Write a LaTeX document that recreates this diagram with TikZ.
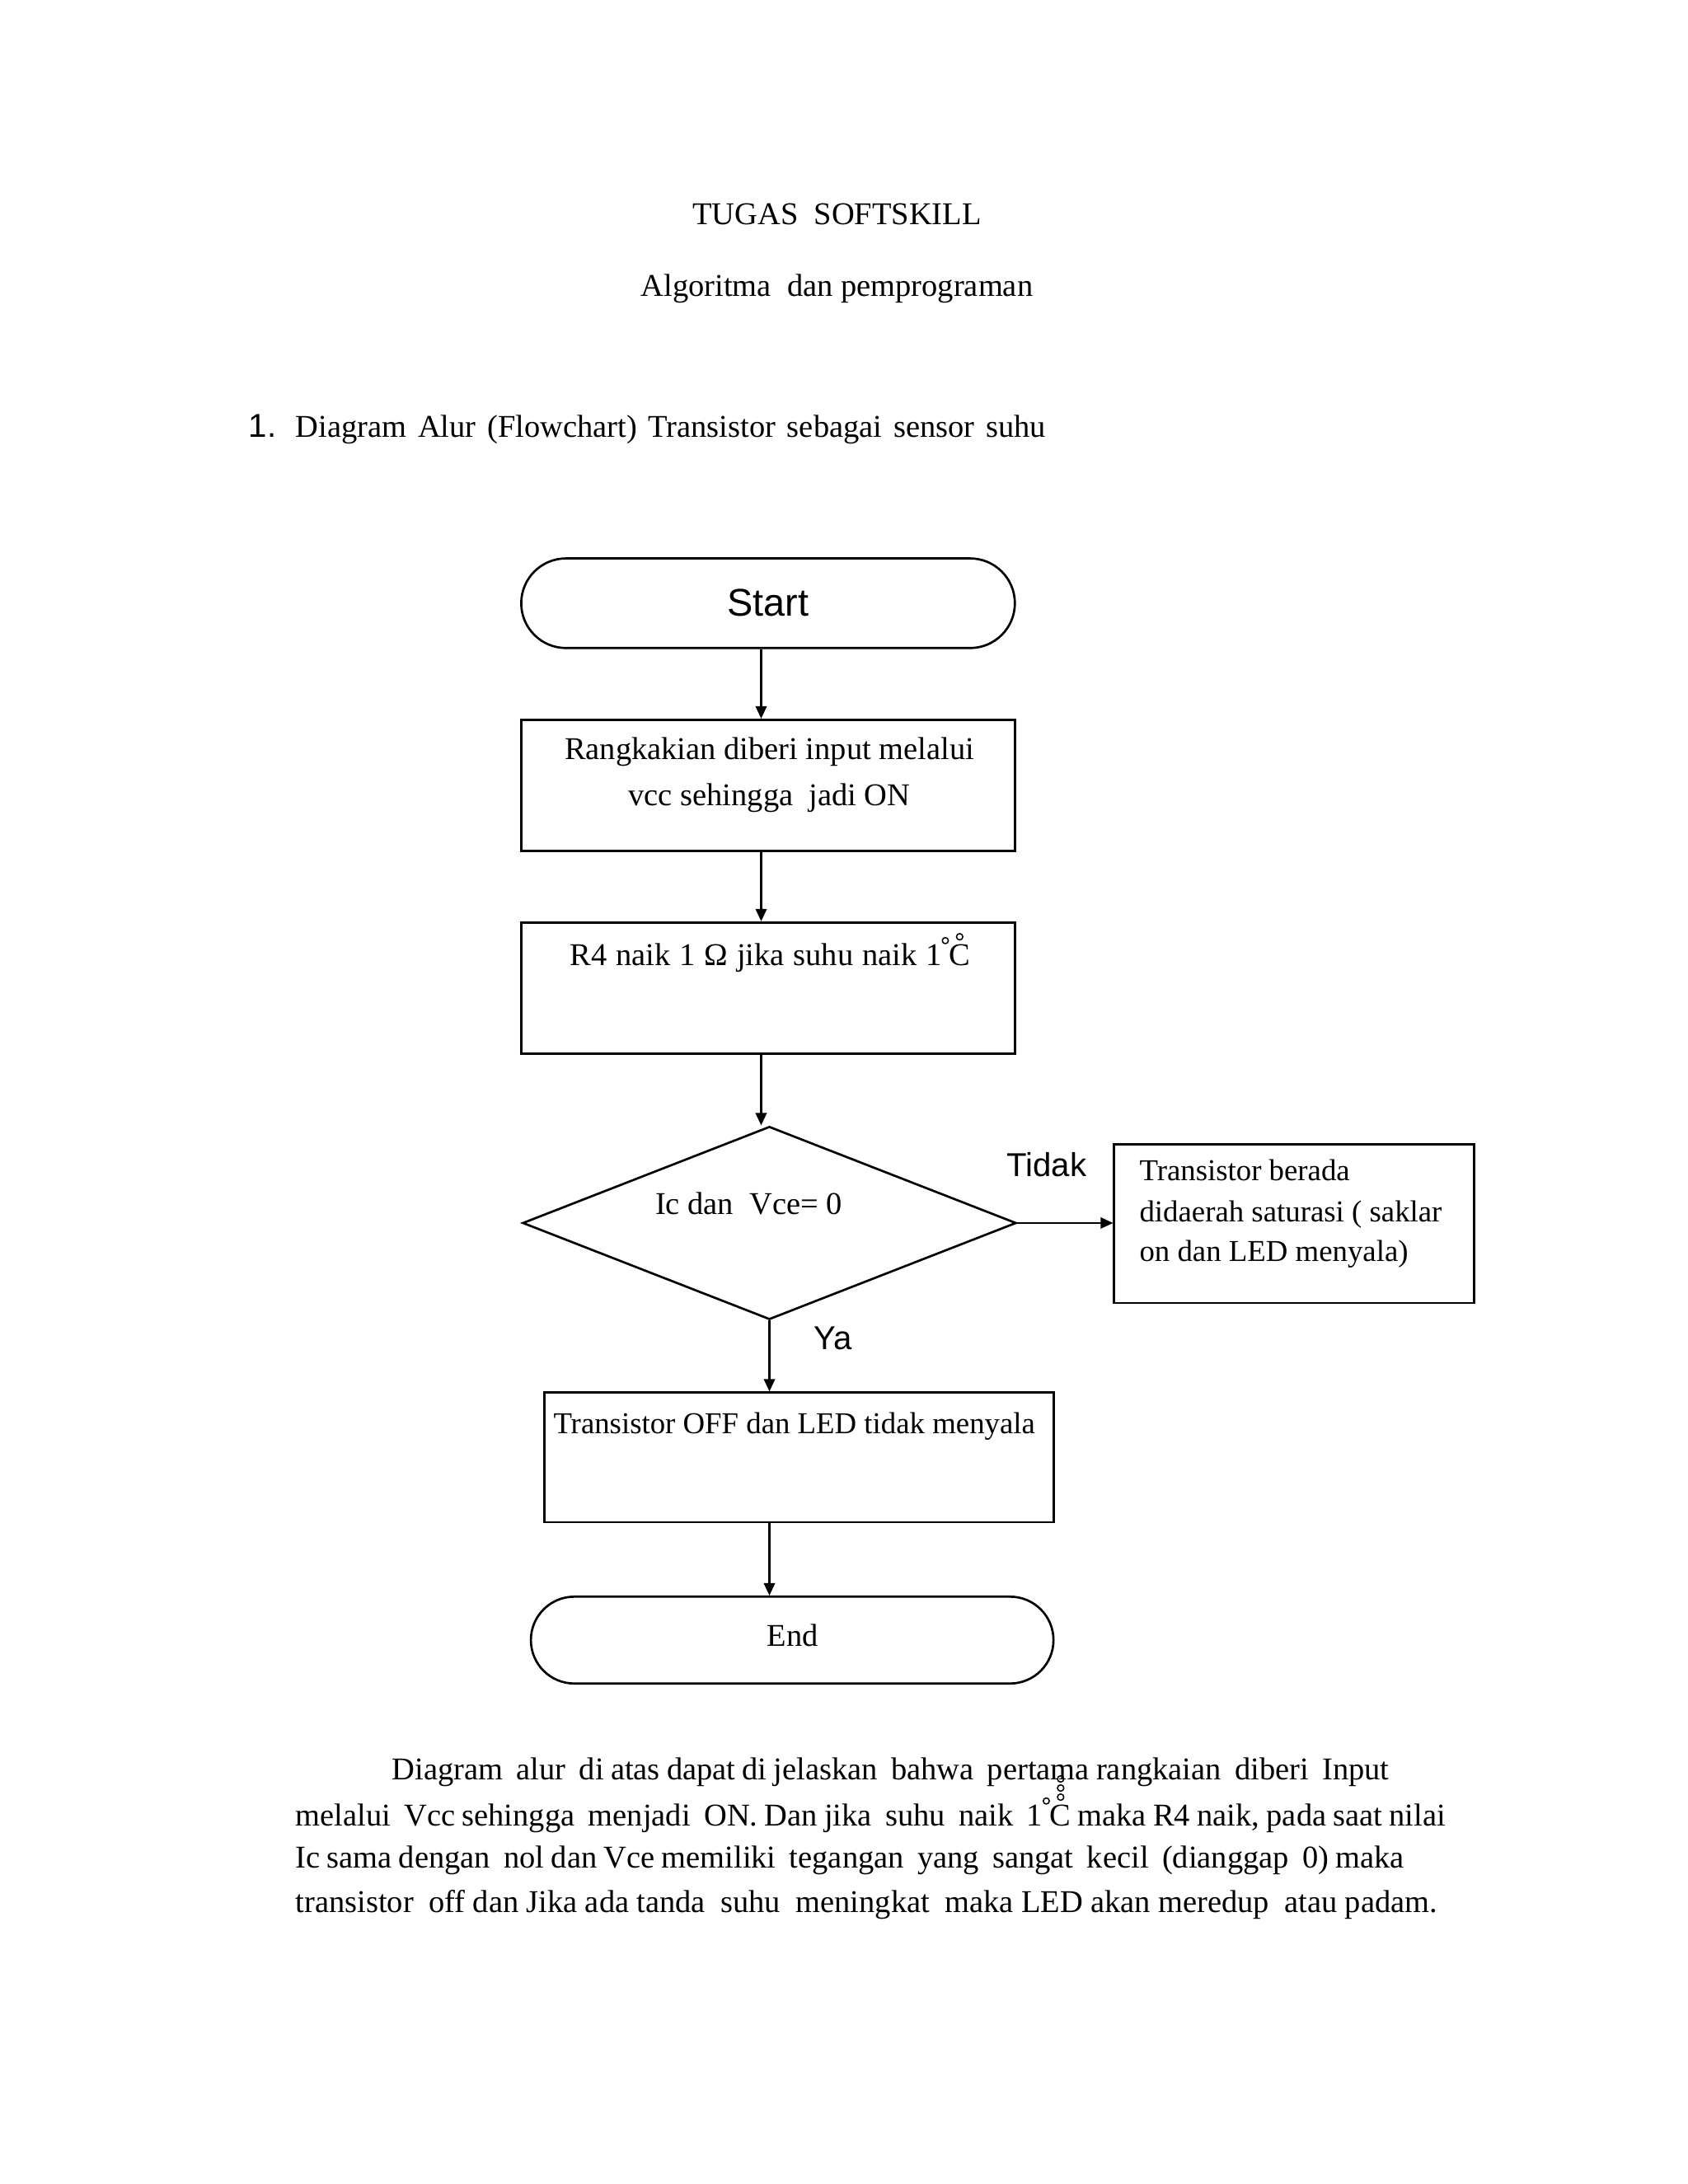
\documentclass[tikz,border=0pt]{standalone}
\usepackage{fontspec}
\usepackage{pict2e}
\setmainfont{Liberation Serif}
\newfontfamily\arialf{Liberation Sans}
\usetikzlibrary{shapes.geometric,arrows.meta}
\newcommand{\degmarks}[1]{\begingroup\setlength{\unitlength}{1pt}\linethickness{0.45pt}\begin{picture}(0,0)\put(1.3,8.9){\circle{2.2}}\put(6.5,10.3){\circle{2.3}}#1\end{picture}\endgroup}
\newcommand{\dC}{\degmarks{}\kern2.6pt C}
\newcommand{\dCp}{\degmarks{\put(6.5,13.6){\circle{2.3}}\put(6.5,16.9){\circle{2.3}}}\kern2.6pt C}
\begin{document}
\begin{tikzpicture}[x=0.5pt,y=-0.5pt,
  tx/.style={inner sep=0pt,anchor=base,font=\fontsize{11.5}{13}\selectfont},
  txw/.style={tx,anchor=base west},
  sans/.style={inner sep=0pt,anchor=base,font=\arialf\fontsize{12}{14}\selectfont},
  box/.style={draw,rectangle,line width=0.8pt,inner sep=0pt},
  term/.style={draw,rectangle,line width=0.8pt,inner sep=0pt},
  dia/.style={draw,diamond,line width=0.8pt,inner sep=0pt},
  arr/.style={line width=0.7pt,-{Triangle[length=4.5pt,width=4pt]}}]
\fill[white] (0,0) rectangle (1224,1584);
\useasboundingbox (0,0) rectangle (1224,1584);

% headings
\node[tx] (t1) at (607,163) {TUGAS\ \ SOFTSKILL};
\node[tx] (t2) at (607,215) {Algoritma\ \ dan pemprograman};
\node[sans,anchor=base west] (n1) at (180,317) {1.};
\node[txw] (h1) at (214,317) {\makebox[272pt][s]{Diagram Alur (Flowchart) Transistor sebagai sensor suhu}};

% flowchart shapes
\node[term,rounded corners=16.25pt,minimum width=179pt,minimum height=32.5pt] (s) at (557,437.5) {};
\node[sans,font=\arialf\fontsize{14}{16}\selectfont] (st) at (557,447) {Start};

\node[box,minimum width=179pt,minimum height=47.5pt] (b1) at (557,569.5) {};
\node[tx] (b1a) at (558,551) {Rangkakian diberi input melalui};
\node[tx] (b1b) at (558,584) {vcc sehingga\ \ jadi ON};

\node[box,minimum width=179pt,minimum height=47.5pt] (b2) at (557,716.5) {};
\node[tx] (b2a) at (558.5,700) {\makebox[145pt][s]{R4 naik 1 Ω jika suhu naik 1\dC}};

\node[dia,minimum width=179pt,minimum height=70pt] (d) at (558,887) {};
\node[tx] (da) at (543,881) {Ic dan\ \ Vce= 0};

\node[box,minimum width=130.5pt,minimum height=57.5pt] (r) at (938.5,887.5) {};
\node[txw,font=\fontsize{11}{13}\selectfont] (ra) at (826,856) {Transistor berada};
\node[txw,font=\fontsize{11}{13}\selectfont] (rb) at (826,886) {didaerah saturasi ( saklar};
\node[txw,font=\fontsize{11}{13}\selectfont] (rc) at (826,915) {on dan LED menyala)};

\node[sans] (tidak) at (759,853) {Tidak};
\node[sans] (ya) at (604,979) {Ya};

\node[box,minimum width=184.5pt,minimum height=47pt] (b3) at (579.5,1057) {};
\node[txw,font=\fontsize{11}{13}\selectfont] (b3a) at (401,1040) {Transistor OFF dan LED tidak menyala};

\node[term,rounded corners=15.75pt,minimum width=189.5pt,minimum height=31.5pt] (e) at (574.5,1189.5) {};
\node[tx] (ea) at (575,1194) {End};

% connectors
\draw[arr] ([xshift=-2.5pt]s.south) -- ([xshift=-2.5pt]b1.north);
\draw[arr] ([xshift=-2.5pt]b1.south) -- ([xshift=-2.5pt]b2.north);
\draw[arr] ([xshift=-2.5pt]b2.south) -- ([xshift=-2.5pt]b2.south |- d.north);
\draw[arr] (d.east) -- (r.west |- d.east);
\draw[arr] (d.south) -- (d.south |- b3.north);
\draw[arr] (b3.south -| d.south) -- (e.north -| d.south);

% paragraph
\node[txw] (p1) at (284,1291) {\makebox[361.5pt][s]{Diagram\ \ alur\ \ di atas dapat di jelaskan\ \ bahwa\ \ pertama rangkaian\ \ diberi\ \ Input}};
\node[txw] (p2) at (214,1324) {\makebox[417pt][s]{melalui\ \ Vcc sehingga\ \ menjadi\ \ ON. Dan jika\ \ suhu\ \ naik\ \ 1\dCp\ maka R4 naik, pada saat nilai}};
\node[txw] (p3) at (214,1355) {\makebox[402pt][s]{Ic sama dengan\ \ nol dan Vce memiliki\ \ tegangan\ \ yang\ \ sangat\ \ kecil\ \ (dianggap\ \ 0) maka}};
\node[txw] (p4) at (214,1387) {\makebox[414pt][s]{transistor\ \ off dan Jika ada tanda\ \ suhu\ \ meningkat\ \ maka LED akan meredup\ \ atau padam.}};
\end{tikzpicture}
\end{document}
